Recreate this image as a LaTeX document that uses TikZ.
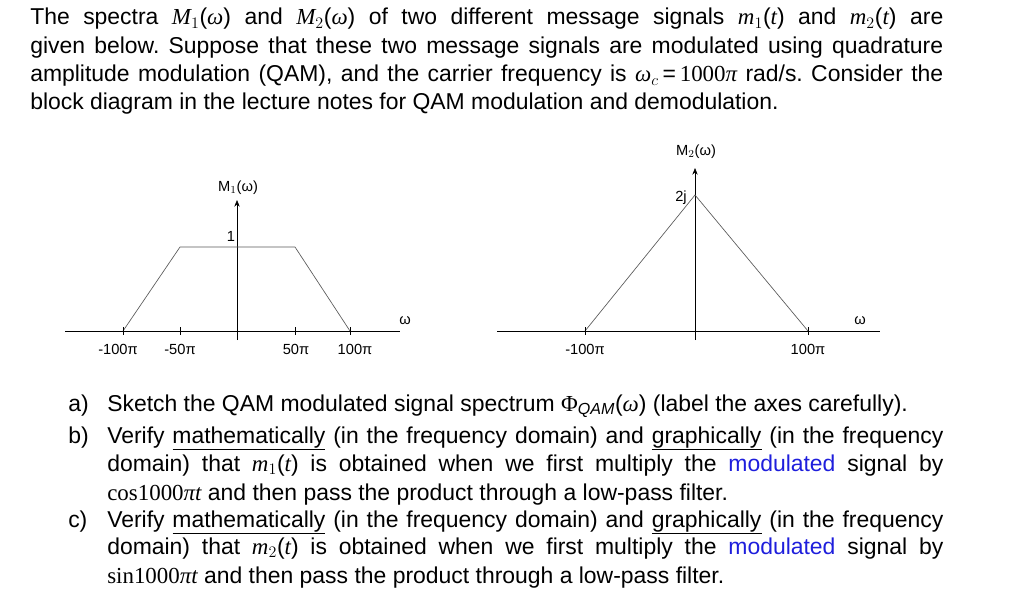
\documentclass[tikz,border=0pt]{standalone}
\usepackage{fontspec}
\setmainfont{Liberation Sans}
\newfontfamily\tms{Liberation Serif}
\usetikzlibrary{arrows.meta}
\definecolor{mblue}{RGB}{30,30,220}
\newcommand\jl[2]{\makebox[#1pt][s]{#2}}
\newcommand\mth[1]{{\tms\itshape #1}}
\frenchspacing
\begin{document}
\begin{tikzpicture}[x=0.75pt,y=-0.75pt,
  txt/.style={anchor=base west,inner sep=0pt,font=\fontsize{17.2}{20}\selectfont},
  sm/.style={inner sep=0pt,font=\fontsize{11}{13}\selectfont},
  ax/.style={line width=0.5pt},
  axa/.style={line width=0.5pt,-{Stealth[length=5pt,width=4pt]}},
  sh/.style={line width=0.5pt,draw=gray!70!black}]
\useasboundingbox (0,0) rectangle (1024,599);
% header
\node[txt] (l1) at (30,25) {\jl{684.75}{The spectra \mth{M}$_1$(\mth{ω}) and \mth{M}$_2$(\mth{ω}) of two different message signals \mth{m}$_1$(\mth{t}) and \mth{m}$_2$(\mth{t}) are}};
\node[txt] (l2) at (30,54) {\jl{684.75}{given below. Suppose that these two message signals are modulated using quadrature}};
\node[txt] (l3) at (30,82) {\jl{684.75}{amplitude modulation (QAM), and the carrier frequency is \mth{ω}$_c$\,=\,{\tms 1000\itshape π} rad/s. Consider the}};
\node[txt] (l4) at (30,110) {block diagram in the lecture notes for QAM modulation and demodulation.};
% left plot
\coordinate (la0) at (65,331); \coordinate (la1) at (400,331);
\draw[ax] (la0) -- (la1);
\coordinate (lv0) at (237,340); \coordinate (lv1) at (237,200);
\draw[axa] (lv0) -- (lv1);
\coordinate (t1) at (123,331); \coordinate (t2) at (180,247); \coordinate (t3) at (295,247); \coordinate (t4) at (350,331);
\draw[sh] (t1) -- (t2) -- (t3) -- (t4);
\foreach \x in {123,180,295,350} \draw[ax] (\x,327) -- (\x,335);
\node[sm] (m1) at (238,188) {M$_1$(ω)};
\node[sm] (one) at (231,236) {1};
\node[sm] (lw) at (405,321) {ω};
\node[sm] (a1) at (118,349) {-100π};
\node[sm] (a2) at (180,349) {-50π};
\node[sm] (a3) at (296,349) {50π};
\node[sm] (a4) at (355,349) {100π};
% right plot
\coordinate (ra0) at (497,331); \coordinate (ra1) at (880,331);
\draw[ax] (ra0) -- (ra1);
\coordinate (rv0) at (695,340); \coordinate (rv1) at (695,168);
\draw[axa] (rv0) -- (rv1);
\coordinate (r1) at (585,331); \coordinate (r2) at (695,195); \coordinate (r3) at (808,331);
\draw[sh] (r1) -- (r2) -- (r3);
\foreach \x in {585,808} \draw[ax] (\x,327) -- (\x,335);
\node[sm] (m2) at (696,152) {M$_2$(ω)};
\node[sm] (twoj) at (681,198) {2j};
\node[sm] (rw) at (860,321) {ω};
\node[sm] (b1) at (585,349) {-100π};
\node[sm] (b2) at (808,349) {100π};
% questions
\node[txt] (qa) at (68,411) {a)};
\node[txt] (qa1) at (107,411) {Sketch the QAM modulated signal spectrum {\tms Φ}$_{\mathit{QAM}}$(\mth{ω}) (label the axes carefully).};
\node[txt] (qb) at (68,443) {b)};
\node[txt] (qb1) at (107,443) {\jl{627}{Verify \underline{mathematically} (in the frequency domain) and \underline{graphically} (in the frequency}};
\node[txt] (qb2) at (107,471) {\jl{627}{domain) that \mth{m}$_1$(\mth{t}) is obtained when we first multiply the \textcolor{mblue}{modulated} signal by}};
\node[txt] (qb3) at (107,500) {{\tms cos1000\itshape πt} and then pass the product through a low-pass filter.};
\node[txt] (qc) at (68,527) {c)};
\node[txt] (qc1) at (107,527) {\jl{627}{Verify \underline{mathematically} (in the frequency domain) and \underline{graphically} (in the frequency}};
\node[txt] (qc2) at (107,554) {\jl{627}{domain) that \mth{m}$_2$(\mth{t}) is obtained when we first multiply the \textcolor{mblue}{modulated} signal by}};
\node[txt] (qc3) at (107,583) {{\tms sin1000\itshape πt} and then pass the product through a low-pass filter.};
\end{tikzpicture}
\end{document}
